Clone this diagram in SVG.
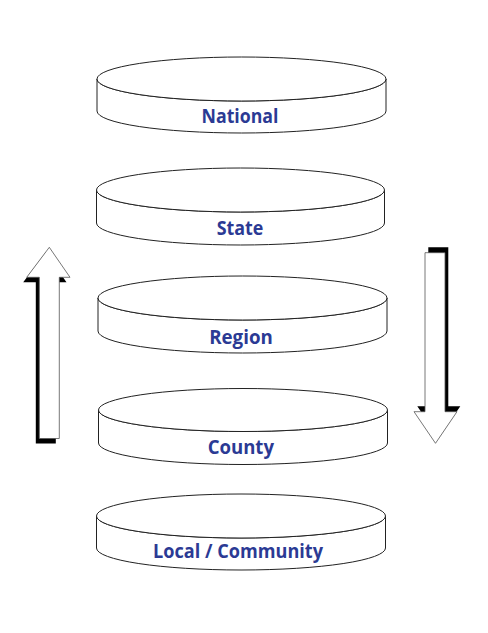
<svg xmlns="http://www.w3.org/2000/svg" width="488" height="633" viewBox="0 0 488 633">
<style>
.cyl{fill:#fff;stroke:#222;stroke-width:1}
.lbl{font-family:"Open Sans","Liberation Sans",sans-serif;font-weight:bold;font-size:19.5px;fill:#2b3a94;text-anchor:middle}
.shadow{fill:#000}
.arrow{fill:#fff;stroke:#555;stroke-width:0.8}
</style>
<rect width="488" height="633" fill="#fff"/>
<g id="national">
<path class="cyl" d="M97,79 A144.5,22 0 0 0 386,79 L386,111 A144.5,22 0 0 1 97,111 Z"/>
<ellipse class="cyl" cx="241.5" cy="79" rx="144.5" ry="22"/>
<text class="lbl" x="240" y="122.5" textLength="77" lengthAdjust="spacingAndGlyphs">National</text>
</g>
<g id="state">
<path class="cyl" d="M96.5,190 A144,22 0 0 0 384.5,190 L384.5,223 A144,22 0 0 1 96.5,223 Z"/>
<ellipse class="cyl" cx="240.5" cy="190" rx="144" ry="22"/>
<text class="lbl" x="240" y="235" textLength="46.7" lengthAdjust="spacingAndGlyphs">State</text>
</g>
<g id="region">
<path class="cyl" d="M98,298 A144.5,22 0 0 0 387,298 L387,331 A144.5,22 0 0 1 98,331 Z"/>
<ellipse class="cyl" cx="242.5" cy="298" rx="144.5" ry="22"/>
<text class="lbl" x="241" y="344" textLength="63.7" lengthAdjust="spacingAndGlyphs">Region</text>
</g>
<g id="county">
<path class="cyl" d="M98.5,410 A144.5,21.5 0 0 0 387.5,410 L387.5,443 A144.5,21.5 0 0 1 98.5,443 Z"/>
<ellipse class="cyl" cx="243" cy="410" rx="144.5" ry="21.5"/>
<text class="lbl" x="240.8" y="454.3" textLength="66.3" lengthAdjust="spacingAndGlyphs">County</text>
</g>
<g id="local">
<path class="cyl" d="M96.5,516 A144.5,22 0 0 0 385.5,516 L385.5,548 A144.5,22 0 0 1 96.5,548 Z"/>
<ellipse class="cyl" cx="241" cy="516" rx="144.5" ry="22"/>
<text class="lbl" x="238" y="558" textLength="170" lengthAdjust="spacingAndGlyphs">Local / Community</text>
</g>
<g id="connectors">
<g id="arrow-up">
<polygon class="shadow" points="45.8,252.3 66.5,282.3 55.8,282.3 55.8,443.5 35.8,443.5 35.8,282.3 23.2,282.3"/>
<polygon class="arrow" points="49.3,247.3 70,277.3 59.3,277.3 59.3,438.5 39.3,438.5 39.3,277.3 26.7,277.3"/>
</g>
<g id="arrow-down">
<polygon class="shadow" points="428.3,247.2 448.3,247.2 448.3,406.2 460.3,406.2 438.8,437.8 417.3,406.2 428.3,406.2"/>
<polygon class="arrow" points="425,252.7 445,252.7 445,411.7 457,411.7 435.5,443.3 414,411.7 425,411.7"/>
</g>
</g>
</svg>
